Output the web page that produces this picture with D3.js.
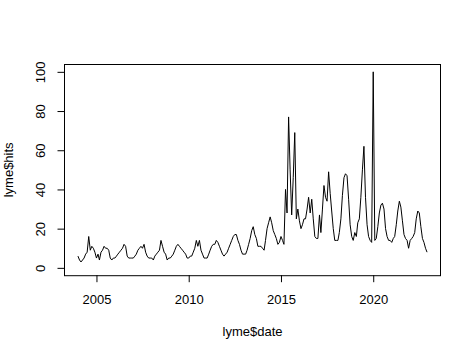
<!DOCTYPE html>
<html>
<head>
<meta charset="utf-8">
<script src="https://cdn.jsdelivr.net/npm/d3@7"></script>
<style>
  html, body { margin: 0; padding: 0; background: #fff; }
  svg { display: block; }
  text { font-family: "Liberation Sans", Arial, Helvetica, sans-serif; }
</style>
</head>
<body>
<svg id="chart" width="474" height="356"></svg>
<script>
// ---- data (monthly Google-Trends style hits, Jan 2004 .. Dec 2022) ----
const startMonth = "2004-01-01";
const hits2004 = [6, 4, 3, 4, 5, 7, 8, 16, 9, 11, 10, 8];
const hits2005 = [5, 7, 4, 8, 9, 11, 10, 10, 9, 5, 4, 5];
const hits2006 = [5, 6, 7, 8, 9, 10, 12, 11, 6, 5, 5, 5];
const hits2007 = [5, 6, 7, 9, 10, 11, 10, 12, 8, 6, 5, 5];
const hits2008 = [5, 4, 6, 7, 8, 9, 14, 11, 8, 7, 4, 5];
const hits2009 = [5, 6, 7, 9, 11, 12, 11, 10, 9, 8, 7, 5];
const hits2010 = [5, 6, 6, 8, 10, 14, 11, 14, 9, 7, 5, 5];
const hits2011 = [5, 7, 9, 11, 12, 12, 14, 13, 11, 9, 7, 6];
const hits2012 = [7, 8, 10, 12, 14, 16, 17, 17, 14, 12, 9, 7];
const hits2013 = [7, 7, 9, 12, 15, 19, 21, 17, 15, 11, 11, 11];
const hits2014 = [10, 9, 14, 20, 23, 26, 23, 19, 17, 15, 12, 13];
const hits2015 = [16, 14, 12, 40, 28, 77, 50, 27, 46, 69, 25, 30];
const hits2016 = [24, 20, 22, 25, 25, 30, 36, 28, 35, 25, 16, 15];
const hits2017 = [15, 27, 18, 30, 42, 36, 34, 49, 38, 29, 20, 14];
const hits2018 = [14, 14, 18, 25, 37, 46, 48, 47, 35, 22, 16, 14];
const hits2019 = [18, 16, 23, 25, 36, 50, 62, 36, 22, 16, 14, 13];
const hits2020 = [100, 14, 15, 21, 28, 32, 33, 30, 20, 16, 14, 14];
const hits2021 = [13, 15, 16, 22, 29, 34, 31, 24, 17, 15, 14, 10];
const hits2022 = [14, 15, 16, 18, 25, 29, 28, 21, 15, 13, 10, 8];
const xTickYears = [2005, 2010, 2015, 2020];
const yTickValues = [0, 20, 40, 60, 80, 100];
const xLabel = "lyme$date";
const yLabel = "lyme$hits";

const hits = [].concat(hits2004, hits2005, hits2006, hits2007, hits2008, hits2009,
  hits2010, hits2011, hits2012, hits2013, hits2014, hits2015, hits2016, hits2017,
  hits2018, hits2019, hits2020, hits2021, hits2022);
const t0 = d3.timeParse("%Y-%m-%d")(startMonth);
const data = hits.map((h, i) => ({ date: d3.timeMonth.offset(t0, i), hits: h }));

// ---- layout ----
const svg = d3.select("#chart");
const L = 64, T = 64, R = 441, B = 275.7;

// R-style 4% axis extension
const xExt = d3.extent(data, d => +d.date);
const xPad = (xExt[1] - xExt[0]) * 0.04;
const x = d3.scaleTime()
  .domain([new Date(xExt[0] - xPad), new Date(xExt[1] + xPad)])
  .range([L, R]);
const yLo = 0, yHi = 100;
const yPad = (yHi - yLo) * 0.04;
const y = d3.scaleLinear().domain([yLo - yPad, yHi + yPad]).range([B, T]);

// line
const line = d3.line().x(d => x(d.date)).y(d => y(d.hits));
svg.append("path")
  .datum(data)
  .attr("d", line)
  .attr("fill", "none")
  .attr("stroke", "#000")
  .attr("stroke-width", 1)
  .attr("stroke-linejoin", "round");

// box
svg.append("rect")
  .attr("x", L + 0.5).attr("y", T + 0.5)
  .attr("width", R - L - 1).attr("height", B - T - 0.5)
  .attr("fill", "none").attr("stroke", "#000").attr("stroke-width", 1);

// x axis
const xAxis = d3.axisBottom(x)
  .tickValues(xTickYears.map(yr => new Date(yr, 0, 1)))
  .tickFormat(d3.timeFormat("%Y"))
  .tickSize(7).tickPadding(13);
const gx = svg.append("g").attr("transform", `translate(0,${B - 0.5})`).call(xAxis);
gx.select(".domain").remove();
gx.selectAll("line").attr("stroke", "#000");
gx.selectAll("text").attr("font-size", 13).attr("fill", "#000")
  .attr("font-family", '"Liberation Sans", Arial, sans-serif');

// y axis (labels rotated, like R's las=0)
const yAxis = d3.axisLeft(y).tickValues(yTickValues).tickSize(7);
const gy = svg.append("g").attr("transform", `translate(${L + 0.5},0)`).call(yAxis);
gy.select(".domain").remove();
gy.selectAll("line").attr("stroke", "#000");
gy.selectAll("text")
  .attr("font-size", 13).attr("fill", "#000")
  .attr("font-family", '"Liberation Sans", Arial, sans-serif')
  .attr("transform", "rotate(-90)")
  .attr("text-anchor", "middle")
  .attr("x", 0).attr("y", -19.5).attr("dy", 0);

// axis titles
svg.append("text")
  .attr("x", (L + R) / 2).attr("y", 336)
  .attr("text-anchor", "middle").attr("font-size", 13).attr("fill", "#000")
  .text(xLabel);
svg.append("text")
  .attr("transform", `translate(13.4,${(T + B) / 2}) rotate(-90)`)
  .attr("text-anchor", "middle").attr("font-size", 13).attr("fill", "#000")
  .text(yLabel);
</script>
</body>
</html>
